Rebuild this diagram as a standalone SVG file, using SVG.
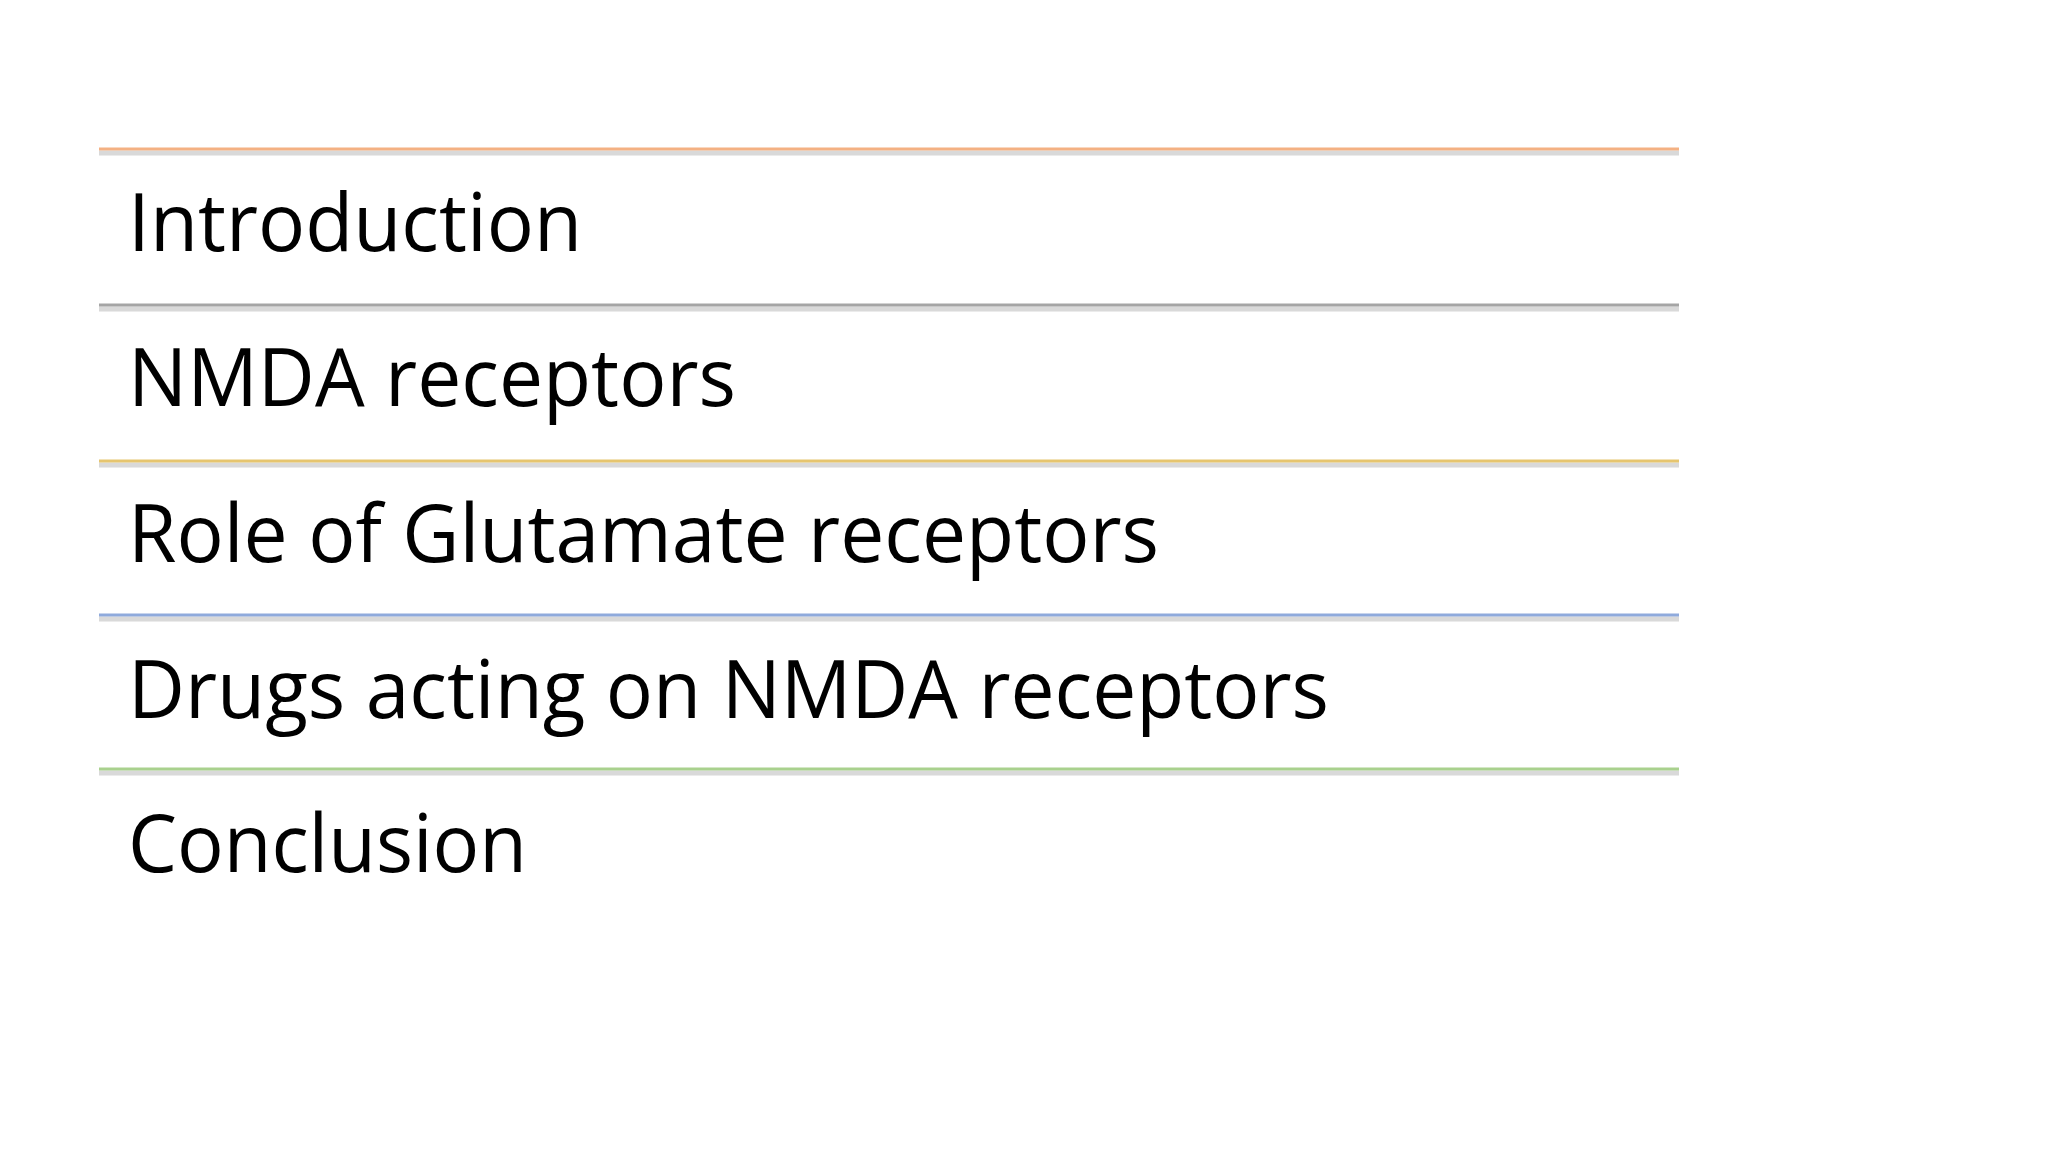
<svg xmlns="http://www.w3.org/2000/svg" width="2048" height="1152" viewBox="0 0 2048 1152">
<style>
.t{font-family:"Open Sans","Liberation Sans",sans-serif;font-size:80px;fill:#000}
.sh{stroke:#d0d0d0;stroke-width:5;opacity:0.8}
</style>
<rect width="2048" height="1152" fill="#fff"/>
<g id="lines">
<line class="sh" x1="99" y1="153" x2="1679" y2="153"/>
<line x1="99" y1="149" x2="1679" y2="149" stroke="#F4B183" stroke-width="3"/>
<line class="sh" x1="99" y1="309" x2="1679" y2="309"/>
<line x1="99" y1="305" x2="1679" y2="305" stroke="#A5A5A5" stroke-width="3"/>
<line class="sh" x1="99" y1="465" x2="1679" y2="465"/>
<line x1="99" y1="461" x2="1679" y2="461" stroke="#E6C56F" stroke-width="3"/>
<line class="sh" x1="99" y1="619" x2="1679" y2="619"/>
<line x1="99" y1="615" x2="1679" y2="615" stroke="#8FAADC" stroke-width="3"/>
<line class="sh" x1="99" y1="773" x2="1679" y2="773"/>
<line x1="99" y1="769" x2="1679" y2="769" stroke="#A9D18E" stroke-width="3"/>
</g>
<g id="n1"><text class="t" x="128" y="251" textLength="454" lengthAdjust="spacingAndGlyphs">Introduction</text></g>
<g id="n2"><text class="t" x="128" y="406" textLength="608" lengthAdjust="spacingAndGlyphs">NMDA receptors</text></g>
<g id="n3"><text class="t" x="128" y="562" textLength="1031" lengthAdjust="spacingAndGlyphs">Role of Glutamate receptors</text></g>
<g id="n4"><text class="t" x="128" y="718" textLength="1201" lengthAdjust="spacingAndGlyphs">Drugs acting on NMDA receptors</text></g>
<g id="n5"><text class="t" x="128" y="872" textLength="399" lengthAdjust="spacingAndGlyphs">Conclusion</text></g>
</svg>
